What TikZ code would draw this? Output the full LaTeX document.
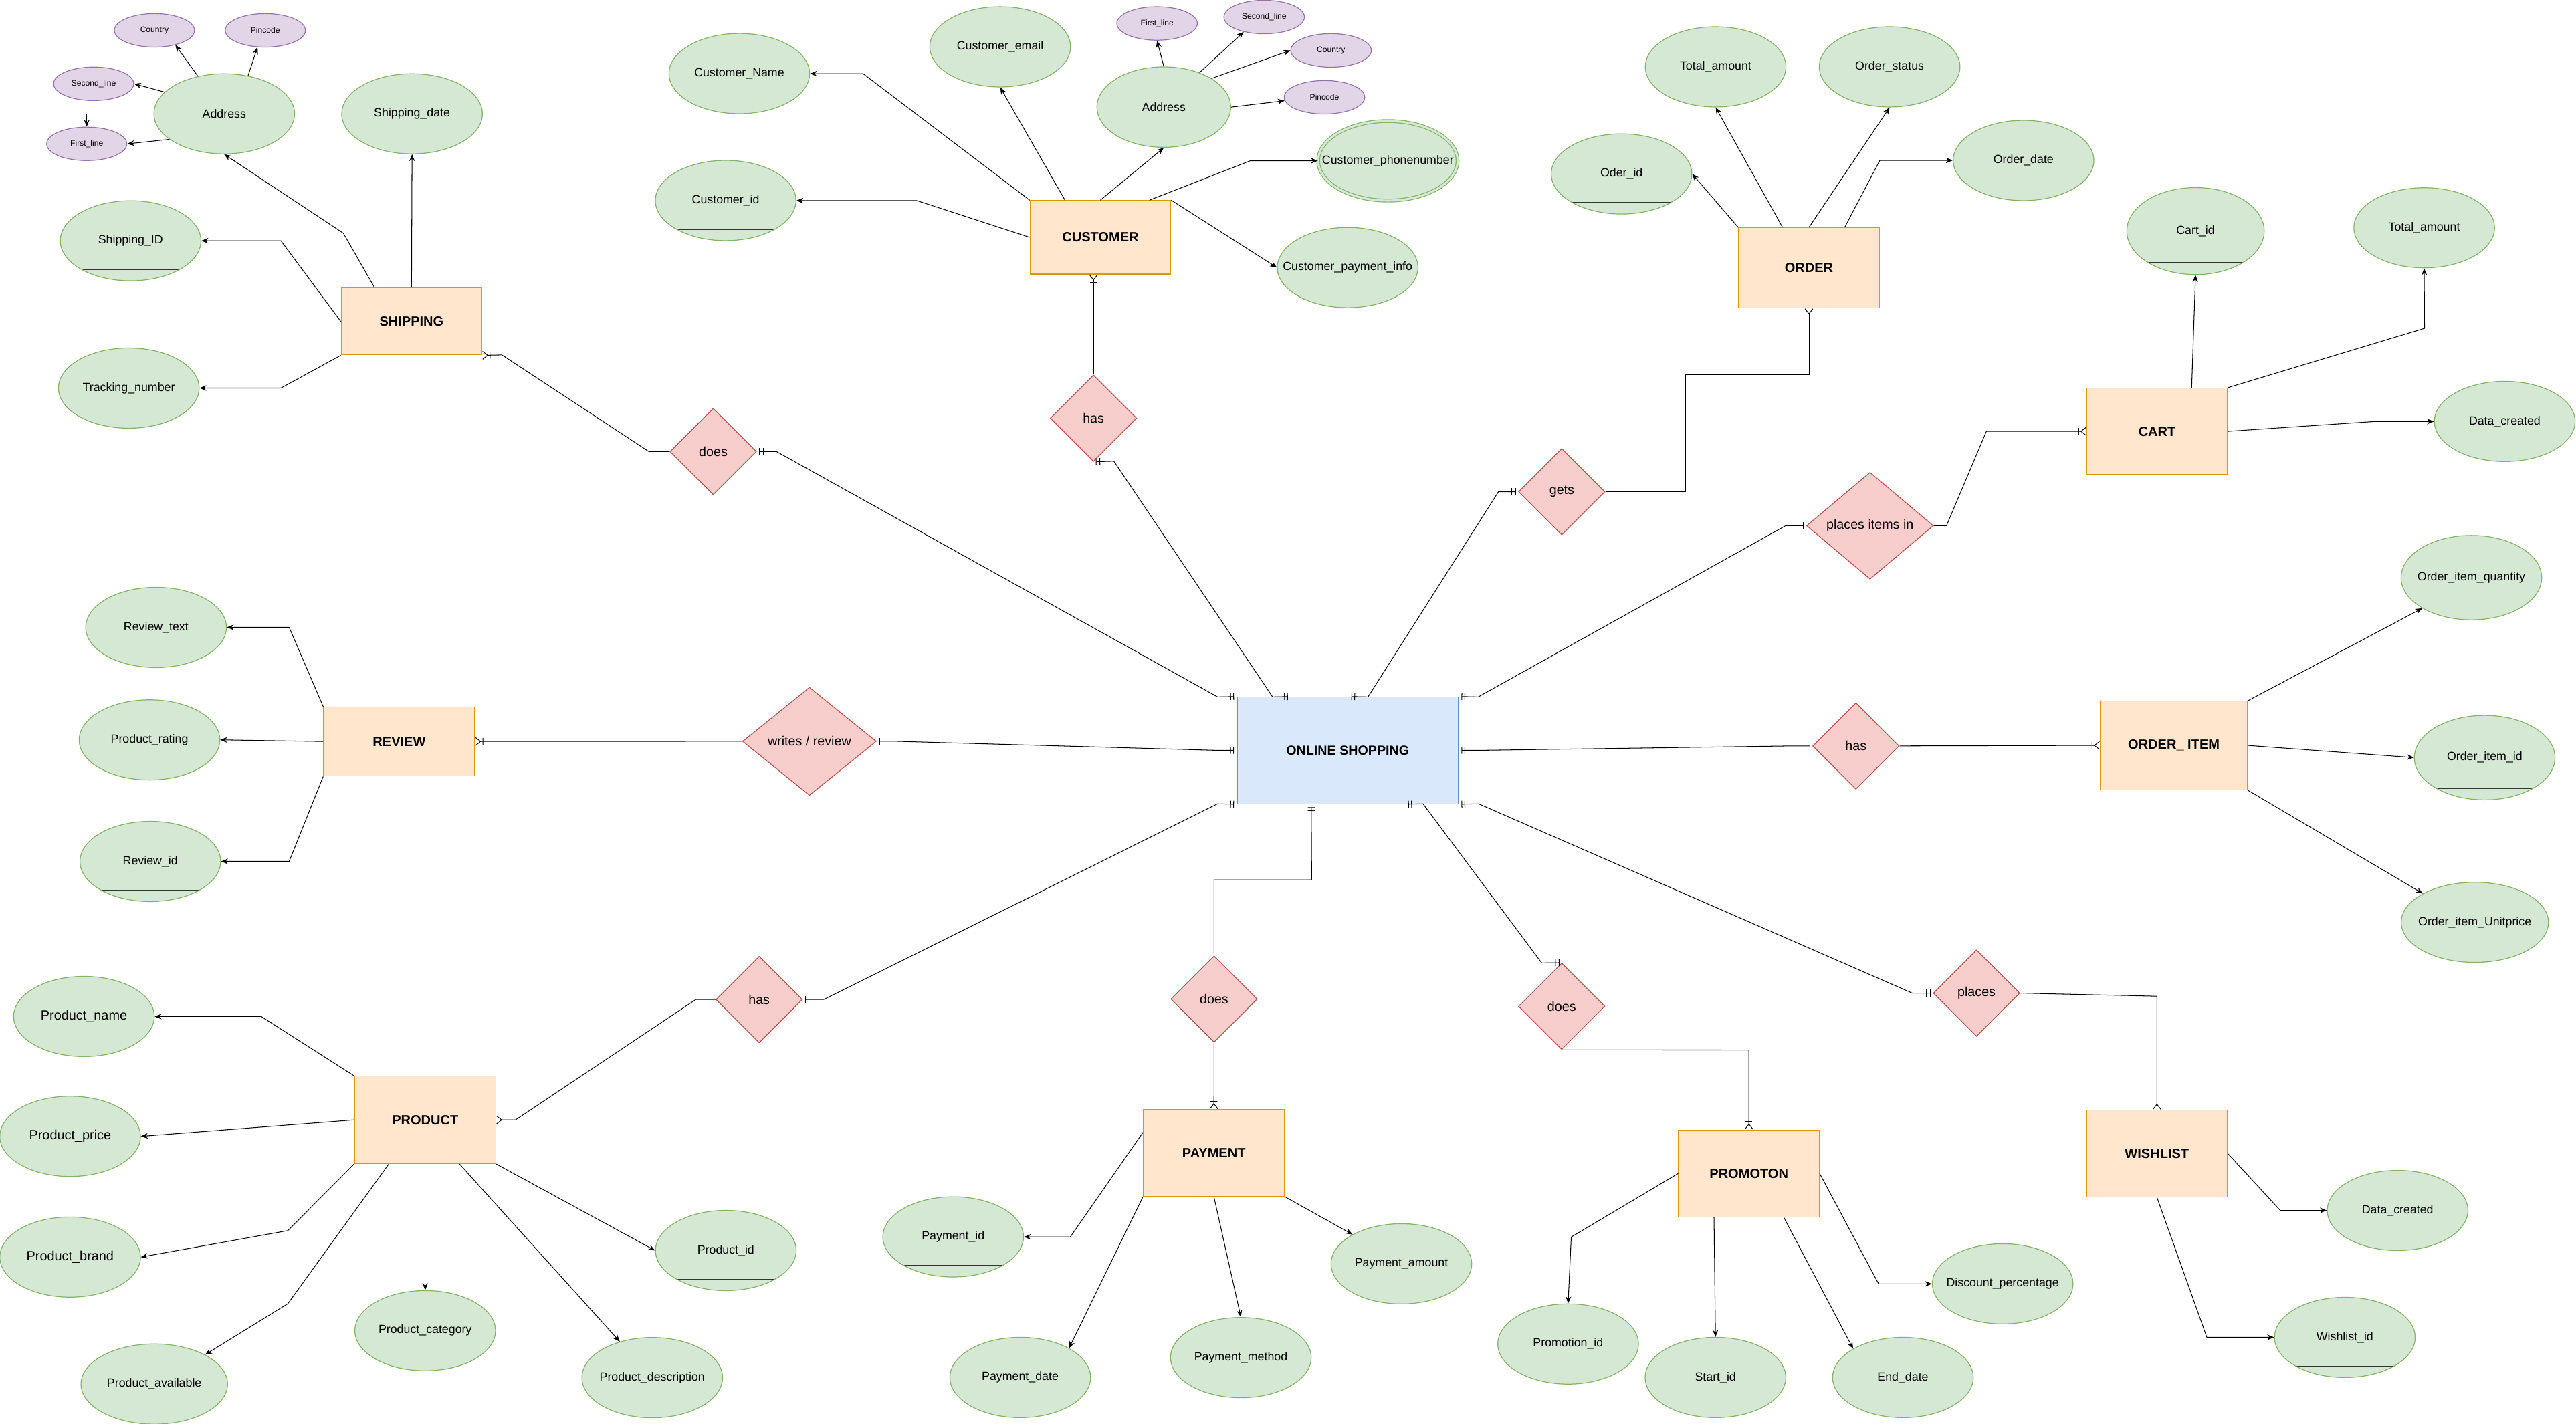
\documentclass[tikz,border=0pt]{standalone}
\usepackage{fontspec}
\setmainfont{Liberation Sans}
\usetikzlibrary{shapes.geometric,arrows.meta,calc}
\definecolor{entF}{HTML}{FFE6CC}\definecolor{entD}{HTML}{D79B00}
\definecolor{relF}{HTML}{F8CECC}\definecolor{relD}{HTML}{B85450}
\definecolor{attF}{HTML}{D5E8D4}\definecolor{attD}{HTML}{82B366}
\definecolor{subF}{HTML}{E1D5E7}\definecolor{subD}{HTML}{9673A6}
\definecolor{osF}{HTML}{DAE8FC}\definecolor{osD}{HTML}{6C8EBF}
\tikzset{
  bs/.style={line width=0.35pt, inner sep=0pt},
  entb/.style={bs, rectangle, draw=entD, fill=entF, minimum width=2.14cm, minimum height=1.325cm, font=\fontsize{5.8pt}{7pt}\selectfont\bfseries},
  relb/.style={bs, diamond, draw=relD, fill=relF, minimum width=1.315cm, minimum height=1.315cm, font=\fontsize{5.7pt}{7pt}\selectfont},
  attb/.style={bs, ellipse, inner xsep=-0.8cm, draw=attD, fill=attF, minimum width=2.14cm, minimum height=1.22cm, font=\fontsize{5.15pt}{6.2pt}\selectfont},
  pk/.style={attb, path picture={\draw[line width=0.5pt, black!80] ($(path picture bounding box.south west)!0.14!(path picture bounding box.north west)$) -- ($(path picture bounding box.south east)!0.14!(path picture bounding box.north east)$);}},
  subat/.style={bs, ellipse, inner xsep=-0.5cm, draw=subD, fill=subF, minimum width=1.22cm, minimum height=0.51cm, font=\fontsize{3.5pt}{4.2pt}\selectfont},
  bigf/.style={font=\fontsize{5.75pt}{7pt}\selectfont},
  cn/.style={line width=0.3pt, draw=black},
  atr/.style={cn, -{Stealth[length=3pt,width=2.4pt]}},
  erm/.style={cn, {Bar[width=3pt,sep=1.3pt]Bar[width=3pt,sep=1pt]}-{Bar[width=3pt,sep=1.3pt]Bar[width=3pt,sep=1pt]}},
  ero/.style={cn, -{Bar[width=3pt,sep=0.6pt]Straight Barb[reversed,length=2.2pt,width=3.4pt]}},
}
\begin{document}
\begin{tikzpicture}[x=0.025cm,y=-0.025cm]
\fill[white] (0,0) rectangle (1568,867);
\useasboundingbox (0,0) rectangle (1568,867);

% central
\node[bs, draw=osD, fill=osF, minimum width=3.3575cm, minimum height=1.6275cm, font=\fontsize{5.7pt}{7pt}\selectfont\bfseries] (os) at (820.35,456.85) {ONLINE SHOPPING};

% entities
\node[entb, minimum height=1.02cm] (ship) at (250.5,195.7) {SHIPPING};
\node[entb, minimum height=1.12cm] (cust) at (669.8,144.5) {CUSTOMER};
\node[entb, minimum height=1.22cm] (ord) at (1101.1,163.1) {ORDER};
\node[entb, minimum height=1.315cm] (cart) at (1313,262.6) {CART};
\node[entb, minimum width=2.3cm, minimum height=1.05cm] (rev) at (243,451.5) {REVIEW};
\node[entb, minimum width=2.24cm, minimum height=1.35cm] (oi) at (1323.2,453.9) {ORDER\_ ITEM};
\node[entb, minimum width=2.15cm, minimum height=1.33cm] (prod) at (258.8,681.9) {PRODUCT};
\node[entb, minimum width=2.145cm, minimum height=1.32cm] (pay) at (738.9,702) {PAYMENT};
\node[entb, minimum width=2.14cm, minimum height=1.325cm] (prom) at (1064.55,714.5) {PROMOTON};
\node[entb, minimum width=2.145cm, minimum height=1.32cm] (wish) at (1312.9,702.35) {WISHLIST};

% relationships
\node[relb] (r1) at (434.15,274.9) {does};
\node[relb] (r2) at (665.6,254.6) {has};
\node[relb] (r3) at (950.65,299.4) {gets};
\node[relb, minimum width=1.93cm, minimum height=1.625cm] (r4) at (1138.25,320.1) {places items in};
\node[relb, minimum width=2.035cm, minimum height=1.645cm] (r5) at (492.7,451.4) {writes / review};
\node[relb] (r6) at (1129.7,454.2) {has};
\node[relb] (r7) at (462.1,608.6) {has};
\node[relb] (r8) at (739,608.3) {does};
\node[relb] (r9) at (950.6,612.7) {does};
\node[relb] (r10) at (1203.1,604.7) {places};

% shipping attributes
\node[attb] (saddr) at (136.5,69.3) {Address};
\node[attb] (sdate) at (250.8,69.3) {Shipping\_date};
\node[pk] (sid) at (79.5,146.6) {Shipping\_ID};
\node[attb] (stn) at (78.4,236.3) {Tracking\_number};
\node[subat] (scty) at (94,18.5) {Country};
\node[subat] (spin) at (161.5,18.5) {Pincode};
\node[subat] (ssec) at (57,51) {Second\_line};
\node[subat] (sfst) at (52.8,87.6) {First\_line};

% customer attributes
\node[attb] (cname) at (450,44.8) {Customer\_Name};
\node[attb] (cemail) at (608.8,28.5) {Customer\_email};
\node[pk] (cid) at (441.7,122.1) {Customer\_id};
\node[attb, minimum width=2.035cm, minimum height=1.225cm] (caddr) at (708.4,65.2) {Address};
\node[subat, minimum width=1.225cm] (cfst) at (704.3,14.3) {First\_line};
\node[subat, minimum width=1.225cm] (csec) at (769.5,10.4) {Second\_line};
\node[subat, minimum width=1.225cm] (ccty) at (810.2,30.7) {Country};
\node[subat, minimum width=1.225cm] (cpin) at (806.2,59.2) {Pincode};
\node[attb, minimum width=2.12cm, minimum height=1.21cm, double=attF, double distance=0.9pt] (cphone) at (844.8,97.9) {Customer\_phonenumber};
\node[attb] (cpay) at (820.3,162.9) {Customer\_payment\_info};

% order attributes
\node[pk] (oid) at (987,105.9) {Oder\_id};
\node[attb] (ota) at (1044.3,40.7) {Total\_amount};
\node[attb] (ost) at (1150.2,40.7) {Order\_status};
\node[attb] (odate) at (1231.7,97.7) {Order\_date};

% cart attributes
\node[pk, minimum width=2.09cm, minimum height=1.325cm] (kid) at (1336.4,140.7) {Cart\_id};
\node[attb] (kta) at (1475.6,138.7) {Total\_amount};
\node[attb] (kdc) at (1524.6,256.6) {Data\_created};

% review attributes
\node[attb] (rtext) at (95,382) {Review\_text};
\node[attb] (rrat) at (91,450.5) {Product\_rating};
\node[pk] (rid) at (91.5,524.5) {Review\_id};

% order item attributes
\node[attb, minimum height=1.285cm] (oiq) at (1504.3,351.7) {Order\_item\_quantity};
\node[pk, minimum height=1.285cm] (oiid) at (1512.4,461.3) {Order\_item\_id};
\node[attb, minimum width=2.24cm] (oiu) at (1506.4,561.6) {Order\_item\_Unitprice};

% product attributes
\node[attb, bigf] (pname) at (51.1,618.9) {Product\_name};
\node[attb, bigf] (pprice) at (42.7,691.9) {Product\_price};
\node[attb, bigf] (pbrand) at (42.7,765.4) {Product\_brand};
\node[attb, minimum width=2.23cm] (pav) at (93.9,842.7) {Product\_available};
\node[attb] (pcat) at (258.8,810.2) {Product\_category};
\node[attb] (pdesc) at (397,838.8) {Product\_description};
\node[pk] (pid) at (441.8,761.4) {Product\_id};

% payment attributes
\node[pk] (payid) at (580.2,753.1) {Payment\_id};
\node[attb] (pdate) at (621,838.7) {Payment\_date};
\node[attb] (pmeth) at (755.3,826.6) {Payment\_method};
\node[attb] (pamt) at (853,769.5) {Payment\_amount};

% promotion attributes
\node[pk] (promid) at (954.5,818.3) {Promotion\_id};
\node[attb] (startid) at (1044.2,838.7) {Start\_id};
\node[attb] (enddate) at (1158.3,838.7) {End\_date};
\node[attb] (disc) at (1219,781.7) {Discount\_percentage};

% wishlist attributes
\node[attb] (wdc) at (1459.4,737) {Data\_created};
\node[pk] (wid) at (1427.3,814.3) {Wishlist\_id};

% ---------------- relationship connectors ----------------
\draw[erm] (os.north west) -- (741.1,424.3) -- (472.6,274.9) -- (r1.east);
\draw[ero] (r1.west) -- (394.9,274.9) -- (305.5,216.1) -- (ship.south east);
\draw[erm] ($(os.north west)+(32.8,0)$) -- (774.6,424.3) -- (678,280.8) -- (r2.south);
\draw[ero] (r2.north) -- (r2.north |- cust.south);
\draw[erm] ($(os.north west)+(67.8,0)$) -- (832.7,424.3) -- (912.1,299.4) -- (r3.west);
\draw[ero] (r3.east) -- (1026,299.4) -- (1026,228.3) -- (1101.1,228.3) -- (ord.south);
\draw[erm] (os.north east) -- (899.8,424.3) -- (1086.9,320.1) -- (r4.west);
\draw[ero] (r4.east) -- (1184.8,320.1) -- (1209.1,262.6) -- (cart.west);
\draw[erm] (os.west) -- (741.1,456.9) -- (545.7,451.4) -- (r5.east);
\draw[ero] (r5.west) -- (rev.east);
\draw[erm] (os.east) -- (900,456.9) -- (1091.1,454.2) -- (r6.west);
\draw[ero] (r6.east) -- (oi.west);
\draw[erm] (os.south west) -- (741.1,489.4) -- (501.4,608.6) -- (r7.east);
\draw[ero] (r7.west) -- (423.5,608.6) -- (313.8,681.9) -- (prod.east);
\draw[erm] ($(os.south west)+(45.2,0)$) -- (798.4,535.7) -- (739,535.7) -- (r8.north);
\draw[ero] (r8.south) -- (pay.north);
\draw[erm] ($(os.south west)+(102.4,0)$) -- (866.2,489.4) -- (938.4,586.3) -- (r9.north);
\draw[ero] (r9.south) -- (1064.55,639.3) -- (prom.north);
\draw[erm] (os.south east) -- (900,489.4) -- (1164,604.7) -- (r10.west);
\draw[ero] (r10.east) -- (1312.9,606.6) -- (wish.north);

% ---------------- attribute connectors ----------------
\draw[atr] ($(ship.north west)+(20.5,0)$) -- (209,142) -- (saddr.south);
\draw[atr] (ship.north) -- (sdate.south);
\draw[atr] (ship.west) -- (171,146.6) -- (sid.east);
\draw[atr] (ship.south west) -- (171,236.3) -- (stn.east);
\draw[atr] (saddr.125) -- (scty.-35);
\draw[atr] (saddr.58) -- (spin.245);
\draw[atr] (saddr.160) -- (ssec.east);
\draw[atr] (ssec.south) -- ++(0,8.1) -| (sfst.north);
\draw[atr] (saddr.205) -- (sfst.east);

\draw[atr] (cust.west) -- (558,122.1) -- (cid.east);
\draw[atr] (cust.north west) -- (525.3,44.8) -- (cname.east);
\draw[atr] ($(cust.north west)+(21.5,0)$) -- (cemail.south);
\draw[atr] (cust.north) -- (caddr.south);
\draw[atr] ($(cust.north east)+(-13.2,0)$) -- (761.1,97.9) -- (cphone.west);
\draw[atr] (cust.north east) -- (cpay.west);
\draw[atr] (caddr.north) -- (cfst.south);
\draw[atr] (caddr.44) -- (csec.216);
\draw[atr] (caddr.31) -- (ccty.west);
\draw[atr] (caddr.east) -- (cpin.185);

\draw[atr] (ord.north west) -- (oid.east);
\draw[atr] ($(ord.north west)+(27,0)$) -- (ota.south);
\draw[atr] (ord.north) -- (ost.south);
\draw[atr] ($(ord.north east)+(-21.3,0)$) -- (1144.2,97.7) -- (odate.west);

\draw[atr] ($(cart.north west)+(64.1,0)$) -- (kid.south);
\draw[atr] (cart.north east) -- (1475.8,199.9) -- (kta.south);
\draw[atr] (cart.east) -- (1445.2,256.6) -- (kdc.west);

\draw[atr] (rev.north west) -- (176,382) -- (rtext.east);
\draw[atr] (rev.west) -- (rrat.east);
\draw[atr] (rev.south west) -- (176,524.5) -- (rid.east);

\draw[atr] (oi.north east) -- (oiq.212);
\draw[atr] (oi.east) -- (oiid.west);
\draw[atr] (oi.south east) -- (oiu.151);

\draw[atr] (prod.north west) -- (159,618.9) -- (pname.east);
\draw[atr] (prod.west) -- (pprice.east);
\draw[atr] (prod.south west) -- (175.2,749.3) -- (pbrand.east);
\draw[atr] ($(prod.south west)+(21.1,0)$) -- (175.2,793.8) -- (pav.30);
\draw[atr] (prod.south) -- (pcat.north);
\draw[atr] ($(prod.south west)+(64.2,0)$) -- (pdesc.132);
\draw[atr] (prod.south east) -- (pid.west);

\draw[atr] ($(pay.north west)+(0,14.1)$) -- (651.5,753.1) -- (payid.east);
\draw[atr] (pay.south west) -- (pdate.31);
\draw[atr] (pay.south) -- (pmeth.north);
\draw[atr] (pay.south east) -- (pamt.149);

\draw[atr] (prom.west) -- (956.4,753.2) -- (promid.north);
\draw[atr] ($(prom.south west)+(21.8,0)$) -- (startid.north);
\draw[atr] ($(prom.south west)+(64.3,0)$) -- (enddate.150);
\draw[atr] (prom.east) -- (1143.5,781.7) -- (disc.west);

\draw[atr] (wish.east) -- (1388,737) -- (wdc.west);
\draw[atr] (wish.south) -- (1343.3,814.3) -- (wid.west);
\end{tikzpicture}
\end{document}
